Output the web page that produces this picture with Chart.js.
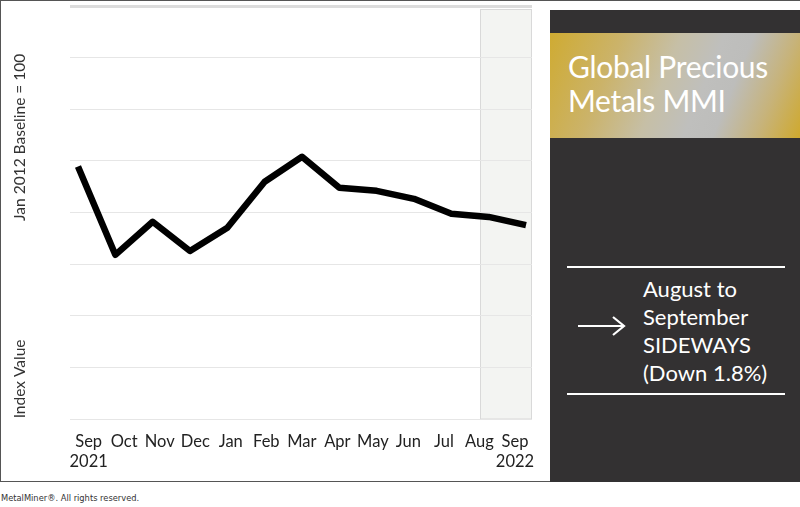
<!DOCTYPE html>
<html>
<head>
<meta charset="utf-8">
<script src="https://cdn.jsdelivr.net/npm/chart.js@4.4.1/dist/chart.umd.min.js"></script>
<style>
  html, body { margin: 0; padding: 0; background: #fff; }
  body { width: 800px; height: 507px; position: relative; overflow: hidden; font-family: Lato, "Open Sans", sans-serif; }
  #frame { position: absolute; left: 0; top: 0; width: 799px; height: 480px; border: 1.5px solid #555; border-right: none; }
  #chart { position: absolute; left: 0; top: 0; }
  #panel { position: absolute; left: 550px; top: 10px; width: 250px; height: 472px; background: #333132; color: #fff; }
  #title { position: absolute; left: 0; top: 23px; width: 250px; height: 105px;
    background: linear-gradient(112deg, #cfab32 0%, #cbb36a 25%, #c6bfa6 45%, #bfbfbd 60%, #bdbdbb 70%, #c7b37a 85%, #cfa92e 100%); }
  #title div { position: absolute; left: 18px; top: 16px; font-size: 30px; line-height: 34px; letter-spacing: -0.3px; }
  .rule { position: absolute; left: 17px; width: 218px; background: #fff; }
  #arrow { position: absolute; left: 27px; top: 304px; }
  #trend { position: absolute; left: 93px; top: 265px; font-size: 22px; line-height: 28px; }
  #foot { position: absolute; left: 1px; top: 493px; font-family: "DejaVu Sans", sans-serif; font-size: 8.3px; color: #333; }
</style>
</head>
<body>
<div id="frame"></div>
<canvas id="chart" width="550" height="482"></canvas>
<div id="panel">
  <div id="title"><div>Global Precious<br>Metals MMI</div></div>
  <div class="rule" style="top:256px;height:2px"></div>
  <svg id="arrow" width="50" height="24" viewBox="0 0 50 24">
    <line x1="1" y1="12" x2="46" y2="12" stroke="#fff" stroke-width="2.2"/>
    <polyline points="36,3 47,12 36,21" fill="none" stroke="#fff" stroke-width="2.2"/>
  </svg>
  <div id="trend">August to<br>September<br>SIDEWAYS<br>(Down 1.8%)</div>
  <div class="rule" style="top:383px;height:1.5px"></div>
</div>
<div id="foot">MetalMiner®. All rights reserved.</div>

<script>
// months shown on the x axis (Sep 2021 .. Sep 2022)
const months = ['Sep', 'Oct', 'Nov', 'Dec', 'Jan', 'Feb', 'Mar', 'Apr', 'May', 'Jun', 'Jul', 'Aug', 'Sep']
const years = ['2021', '', '', '', '', '', '', '', '', '', '', '', '2022']
// index values (Jan 2012 = 100 baseline, scale estimated)
const mmiValues = [1978, 1636, 1764, 1651, 1741, 1919, 2016, 1896, 1884, 1853, 1795, 1783, 1751]
// y gridlines (no labels printed on the chart)
const yMin = 1000
const yMax = 2600
const yStep = 200
// the shaded "latest month" box starts here on the month index
const shadeFrom = 10.77

const fontFamily = 'Lato, "Open Sans", sans-serif'

const shadePlugin = {
  id: 'shade',
  beforeDraw(chart) {
    const {ctx, chartArea} = chart
    const x0 = Math.round(chart.scales.x.getPixelForValue(shadeFrom)) + 0.5
    const x1 = chartArea.right - 0.5
    const y0 = chartArea.top + 3.5
    const y1 = chartArea.bottom
    ctx.save()
    ctx.fillStyle = '#f3f4f2'
    ctx.fillRect(x0, y0, x1 - x0, y1 - y0)
    ctx.strokeStyle = '#d9d9d9'
    ctx.lineWidth = 1
    ctx.strokeRect(x0, y0, x1 - x0, y1 - y0)
    ctx.restore()
  }
}

const yTitlePlugin = {
  id: 'ytitles',
  afterDraw(chart) {
    const {ctx, chartArea} = chart
    const h = chartArea.bottom - chartArea.top
    ctx.save()
    ctx.translate(20, 0)
    ctx.rotate(-Math.PI / 2)
    ctx.fillStyle = '#333'
    ctx.font = '15.5px ' + fontFamily
    ctx.textBaseline = 'middle'
    ctx.textAlign = 'center'
    ctx.fillText('Jan 2012 Baseline = 100', -(chartArea.top + h * 0.318), 0)
    ctx.fillText('Index Value', -(chartArea.top + h * 0.903), 0)
    ctx.restore()
  }
}

document.addEventListener('DOMContentLoaded', () => {
  const ctx = document.getElementById('chart').getContext('2d')

  const points = mmiValues.map((v, i) => ({x: i, y: v}))

  new Chart(ctx, {
    type: 'line',
    data: {
      datasets: [{
        data: points,
        borderColor: '#000',
        borderWidth: 6.5,
        borderJoinStyle: 'round',
        pointRadius: 0,
        tension: 0,
        fill: false
      }]
    },
    options: {
      responsive: false,
      animation: false,
      layout: {padding: {top: 6, right: 18, left: 0, bottom: 0}},
      plugins: {
        legend: {display: false},
        tooltip: {enabled: false}
      },
      scales: {
        x: {
          type: 'linear',
          display: false,
          min: -0.214,
          max: 12.16
        },
        xl: {
          type: 'linear',
          position: 'bottom',
          min: -0.526,
          max: 12.48,
          grid: {display: false},
          border: {display: false},
          afterBuildTicks: (s) => { s.ticks = months.map((m, i) => ({value: i})) },
          afterFit: (s) => { s.height = 63 },
          ticks: {
            autoSkip: false,
            maxRotation: 0,
            padding: 5,
            color: '#222',
            font: {family: fontFamily, size: 16.5, lineHeight: 1.2},
            callback: (v) => years[v] ? [months[v], years[v]] : months[v]
          }
        },
        y: {
          min: yMin,
          max: yMax,
          afterFit: (s) => { s.width = 70 },
          ticks: {display: false, stepSize: yStep},
          border: {display: false},
          grid: {
            drawTicks: false,
            color: (c) => c.index === (yMax - yMin) / yStep ? '#dcdcdc' : '#e6e6e6',
            lineWidth: (c) => c.index === (yMax - yMin) / yStep ? 3 : 1
          }
        }
      }
    },
    plugins: [shadePlugin, yTitlePlugin]
  })
})
</script>
</body>
</html>
